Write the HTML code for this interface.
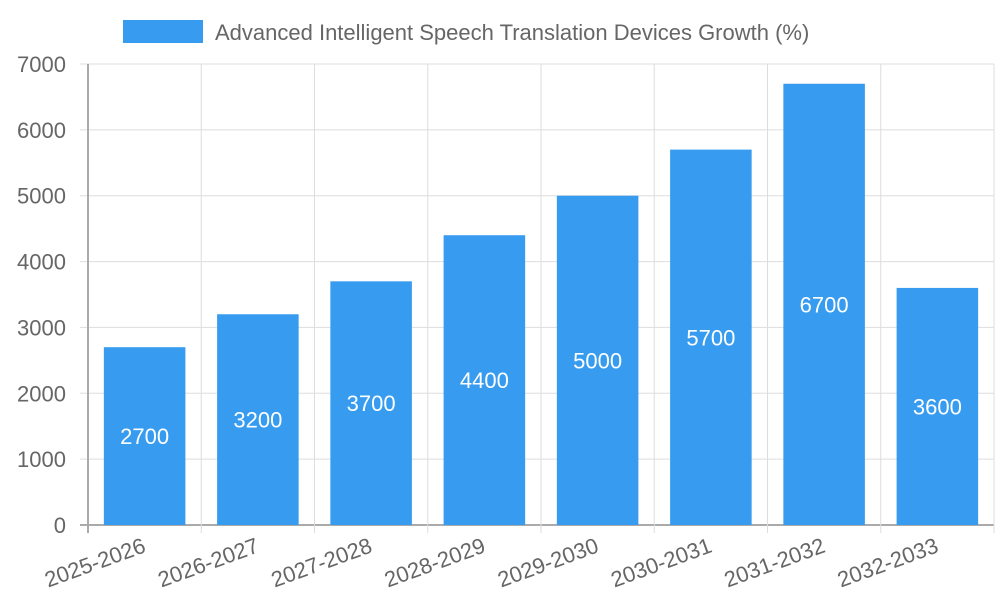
<!DOCTYPE html>
<html><head><meta charset="utf-8"><style>body{margin:0;background:#fff}svg{display:block;font-family:"Liberation Sans",sans-serif}</style></head>
<body>
<svg id="chart" width="1000" height="600">
<rect x="123" y="20" width="80" height="23" fill="#379cf0"/>
<text x="215" y="40" font-size="22" fill="#666">Advanced Intelligent Speech Translation Devices Growth (%)</text>
<g id="grid"></g><g id="bars"></g><g id="labels"></g>
</svg>
<script>
const categories=["2025-2026","2026-2027","2027-2028","2028-2029","2029-2030","2030-2031","2031-2032","2032-2033"];
const values=[2700,3200,3700,4400,5000,5700,6700,3600];
const yTicks=[0,1000,2000,3000,4000,5000,6000,7000];
const NS="http://www.w3.org/2000/svg";
const L=88,R=994,T=64,B=525,yMax=7000;
const bw=(R-L)/categories.length;
const y=v=>B-(v/yMax)*(B-T);
const x=i=>L+i*bw;
function mk(tag,attrs,parent,text){const e=document.createElementNS(NS,tag);for(const k in attrs)e.setAttribute(k,attrs[k]);if(text!==undefined)e.textContent=text;document.getElementById(parent).appendChild(e);return e;}
yTicks.forEach(t=>{
  const g=mk('line',{x1:L-8,x2:R,y1:y(t),y2:y(t),stroke:t===0?'#aaa':'#ddd','stroke-width':t===0?2:1},'grid');
  
  
  const tx=mk('text',{x:66,y:y(t)+8,'font-size':22,fill:'#666','text-anchor':'end'},'labels',t);
  
  
});
for(let i=0;i<=categories.length;i++){
  const g=mk('line',{x1:x(i),x2:x(i),y1:T,y2:B+8,stroke:i===0?'#aaa':'#ddd','stroke-width':i===0?2:1},'grid');
  
  
}
categories.forEach((c,i)=>{
  const cx=x(i)+bw/2,w=bw*0.72;
  const r=mk('rect',{x:cx-w/2,y:y(values[i]),width:w,height:B-y(values[i]),fill:'#379cf0'},'bars');
  
  
  const v=mk('text',{x:cx,y:(y(values[i])+B)/2+8,'font-size':22,fill:'#fff','text-anchor':'middle'},'labels',values[i]);
  
  
  const t=mk('text',{x:cx,y:552,'font-size':22,fill:'#666','text-anchor':'end',transform:`rotate(-20 ${cx} 545)`},'labels',c);
  
  
});
</script>
</body></html>
